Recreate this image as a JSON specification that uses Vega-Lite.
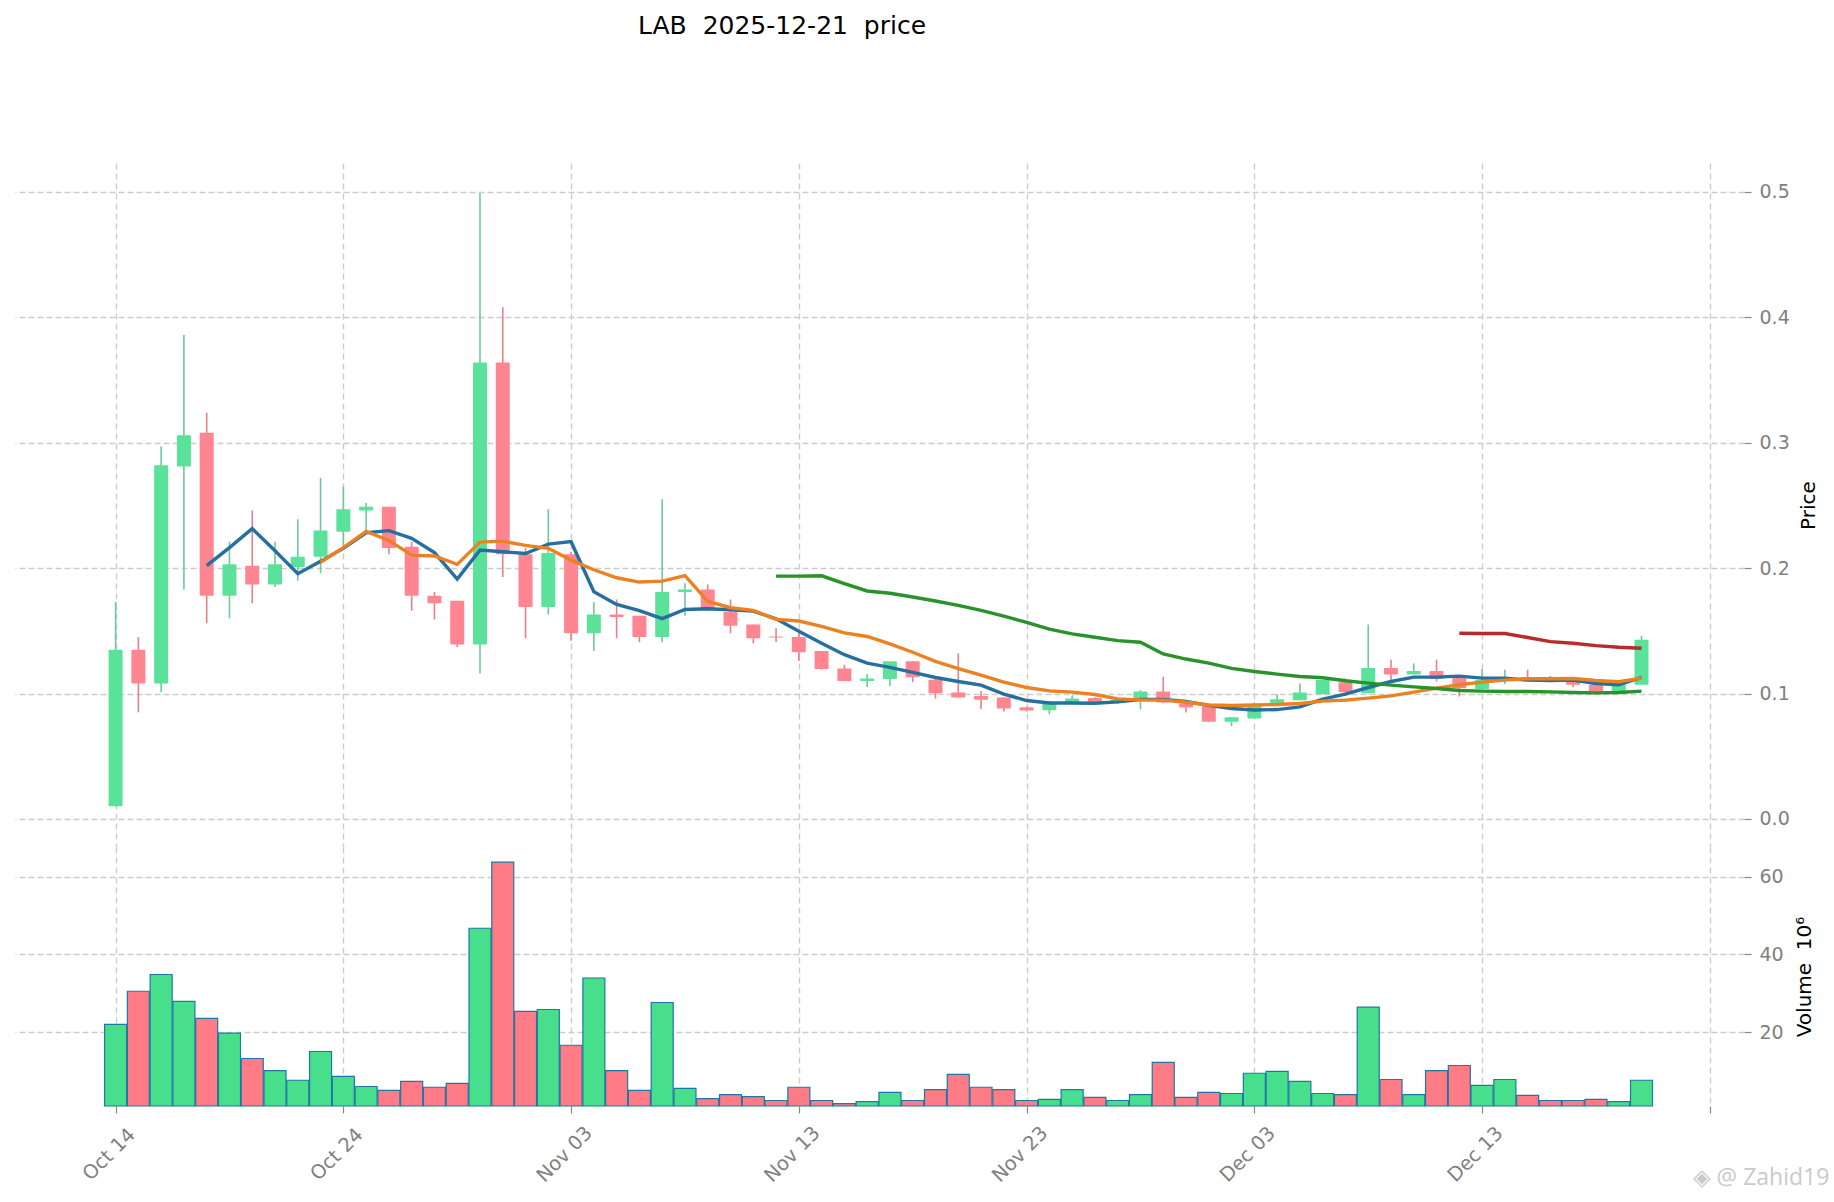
{"$schema":"https://vega.github.io/schema/vega-lite/v6.json","background":"#ffffff","padding":{"left":15,"top":14,"right":0,"bottom":0},"title":{"text":"LAB \u00a02025-12-21 \u00a0price","anchor":"start","frame":"group","dx":623,"offset":124,"font":"DejaVu Sans","fontSize":25,"fontWeight":"normal","color":"#000000"},"spacing":0,"datasets":{"ohlc":[
{"d":"2025-10-14","o":0.010,"h":0.173,"l":0.010,"c":0.135,"v":22.0,"dir":"up"},
{"d":"2025-10-15","o":0.135,"h":0.145,"l":0.085,"c":0.108,"v":30.5,"dir":"down"},
{"d":"2025-10-16","o":0.108,"h":0.297,"l":0.101,"c":0.282,"v":34.8,"dir":"up"},
{"d":"2025-10-17","o":0.281,"h":0.386,"l":0.183,"c":0.306,"v":27.9,"dir":"up"},
{"d":"2025-10-18","o":0.308,"h":0.324,"l":0.156,"c":0.178,"v":23.5,"dir":"down","ma5":0.202},
{"d":"2025-10-19","o":0.178,"h":0.221,"l":0.160,"c":0.203,"v":19.7,"dir":"up","ma5":0.2164},
{"d":"2025-10-20","o":0.202,"h":0.246,"l":0.172,"c":0.187,"v":13.2,"dir":"down","ma5":0.2315},
{"d":"2025-10-21","o":0.187,"h":0.221,"l":0.185,"c":0.203,"v":10.1,"dir":"up","ma5":0.2138},
{"d":"2025-10-22","o":0.201,"h":0.239,"l":0.190,"c":0.209,"v":7.6,"dir":"up","ma5":0.1956},
{"d":"2025-10-23","o":0.209,"h":0.272,"l":0.196,"c":0.230,"v":15.0,"dir":"up","ma5":0.2054,"ma10":0.2047},
{"d":"2025-10-24","o":0.229,"h":0.265,"l":0.218,"c":0.247,"v":8.6,"dir":"up","ma5":0.2158,"ma10":0.2164},
{"d":"2025-10-25","o":0.246,"h":0.252,"l":0.230,"c":0.249,"v":6.0,"dir":"up","ma5":0.2282,"ma10":0.2292},
{"d":"2025-10-26","o":0.249,"h":0.249,"l":0.211,"c":0.216,"v":5.0,"dir":"down","ma5":0.2299,"ma10":0.2221},
{"d":"2025-10-27","o":0.217,"h":0.221,"l":0.166,"c":0.178,"v":7.3,"dir":"down","ma5":0.2238,"ma10":0.2104},
{"d":"2025-10-28","o":0.178,"h":0.181,"l":0.159,"c":0.172,"v":5.8,"dir":"down","ma5":0.2124,"ma10":0.2097},
{"d":"2025-10-29","o":0.174,"h":0.174,"l":0.137,"c":0.139,"v":6.8,"dir":"down","ma5":0.1913,"ma10":0.203},
{"d":"2025-10-30","o":0.139,"h":0.499,"l":0.116,"c":0.364,"v":46.7,"dir":"up","ma5":0.2144,"ma10":0.2208},
{"d":"2025-10-31","o":0.364,"h":0.408,"l":0.193,"c":0.211,"v":63.7,"dir":"down","ma5":0.2131,"ma10":0.2215},
{"d":"2025-11-01","o":0.211,"h":0.216,"l":0.144,"c":0.169,"v":25.3,"dir":"down","ma5":0.2117,"ma10":0.2181},
{"d":"2025-11-02","o":0.169,"h":0.247,"l":0.163,"c":0.212,"v":25.8,"dir":"up","ma5":0.2191,"ma10":0.2158},
{"d":"2025-11-03","o":0.211,"h":0.213,"l":0.142,"c":0.148,"v":16.6,"dir":"down","ma5":0.2211,"ma10":0.2064},
{"d":"2025-11-04","o":0.148,"h":0.173,"l":0.134,"c":0.163,"v":33.9,"dir":"up","ma5":0.1812,"ma10":0.1987},
{"d":"2025-11-05","o":0.163,"h":0.175,"l":0.144,"c":0.161,"v":10.1,"dir":"down","ma5":0.1711,"ma10":0.1923},
{"d":"2025-11-06","o":0.162,"h":0.162,"l":0.141,"c":0.145,"v":5.0,"dir":"down","ma5":0.1661,"ma10":0.1889},
{"d":"2025-11-07","o":0.145,"h":0.255,"l":0.141,"c":0.181,"v":27.6,"dir":"up","ma5":0.1597,"ma10":0.1896},
{"d":"2025-11-08","o":0.181,"h":0.188,"l":0.162,"c":0.183,"v":5.5,"dir":"up","ma5":0.1670,"ma10":0.1940},
{"d":"2025-11-09","o":0.183,"h":0.187,"l":0.166,"c":0.168,"v":2.9,"dir":"down","ma5":0.1676,"ma10":0.1735},
{"d":"2025-11-10","o":0.165,"h":0.175,"l":0.148,"c":0.154,"v":3.9,"dir":"down","ma5":0.1668,"ma10":0.1684},
{"d":"2025-11-11","o":0.155,"h":0.155,"l":0.140,"c":0.144,"v":3.4,"dir":"down","ma5":0.1658,"ma10":0.1663},
{"d":"2025-11-12","o":0.1455,"h":0.152,"l":0.141,"c":0.1447,"v":2.4,"dir":"down","ma5":0.1596,"ma10":0.1591,"ma30":0.1936},
{"d":"2025-11-13","o":0.145,"h":0.149,"l":0.126,"c":0.133,"v":5.8,"dir":"down","ma5":0.1497,"ma10":0.1578,"ma30":0.1936},
{"d":"2025-11-14","o":0.134,"h":0.134,"l":0.119,"c":0.1195,"v":2.4,"dir":"down","ma5":0.1401,"ma10":0.1535,"ma30":0.1939},
{"d":"2025-11-15","o":0.120,"h":0.123,"l":0.110,"c":0.110,"v":1.6,"dir":"down","ma5":0.131,"ma10":0.1484,"ma30":0.1877},
{"d":"2025-11-16","o":0.110,"h":0.1155,"l":0.105,"c":0.112,"v":2.1,"dir":"up","ma5":0.1243,"ma10":0.1455,"ma30":0.1818},
{"d":"2025-11-17","o":0.1115,"h":0.1257,"l":0.106,"c":0.1257,"v":4.5,"dir":"up","ma5":0.1209,"ma10":0.1396,"ma30":0.18},
{"d":"2025-11-18","o":0.1257,"h":0.1257,"l":0.109,"c":0.113,"v":2.4,"dir":"down","ma5":0.1168,"ma10":0.1329,"ma30":0.177},
{"d":"2025-11-19","o":0.111,"h":0.113,"l":0.096,"c":0.1003,"v":5.2,"dir":"down","ma5":0.1128,"ma10":0.1257,"ma30":0.1738},
{"d":"2025-11-20","o":0.1008,"h":0.132,"l":0.0968,"c":0.0968,"v":9.1,"dir":"down","ma5":0.1096,"ma10":0.1198,"ma30":0.1703},
{"d":"2025-11-21","o":0.098,"h":0.102,"l":0.0877,"c":0.095,"v":5.8,"dir":"down","ma5":0.1067,"ma10":0.1147,"ma30":0.1663},
{"d":"2025-11-22","o":0.0968,"h":0.0968,"l":0.0856,"c":0.088,"v":5.2,"dir":"down","ma5":0.0995,"ma10":0.1091,"ma30":0.1618},
{"d":"2025-11-23","o":0.089,"h":0.0895,"l":0.0856,"c":0.0864,"v":2.4,"dir":"down","ma5":0.0944,"ma10":0.1048,"ma30":0.1567},
{"d":"2025-11-24","o":0.0866,"h":0.094,"l":0.0834,"c":0.093,"v":2.7,"dir":"up","ma5":0.0925,"ma10":0.1021,"ma30":0.1513},
{"d":"2025-11-25","o":0.0925,"h":0.0987,"l":0.0925,"c":0.096,"v":5.2,"dir":"up","ma5":0.0925,"ma10":0.1011,"ma30":0.1476},
{"d":"2025-11-26","o":0.0965,"h":0.097,"l":0.092,"c":0.0925,"v":3.2,"dir":"down","ma5":0.0922,"ma10":0.0992,"ma30":0.1449},
{"d":"2025-11-27","o":0.0925,"h":0.0955,"l":0.0915,"c":0.095,"v":2.4,"dir":"up","ma5":0.0933,"ma10":0.0957,"ma30":0.1422},
{"d":"2025-11-28","o":0.0955,"h":0.1027,"l":0.0874,"c":0.1016,"v":3.9,"dir":"up","ma5":0.0952,"ma10":0.0949,"ma30":0.1409},
{"d":"2025-11-29","o":0.1016,"h":0.1134,"l":0.0922,"c":0.0928,"v":12.2,"dir":"down","ma5":0.0952,"ma10":0.0947,"ma30":0.1316},
{"d":"2025-11-30","o":0.092,"h":0.092,"l":0.0848,"c":0.0888,"v":3.2,"dir":"down","ma5":0.0936,"ma10":0.093,"ma30":0.1275},
{"d":"2025-12-01","o":0.0901,"h":0.0901,"l":0.0775,"c":0.0775,"v":4.5,"dir":"down","ma5":0.0906,"ma10":0.0909,"ma30":0.1243},
{"d":"2025-12-02","o":0.0775,"h":0.081,"l":0.074,"c":0.081,"v":4.2,"dir":"up","ma5":0.088,"ma10":0.0904,"ma30":0.12},
{"d":"2025-12-03","o":0.080,"h":0.093,"l":0.080,"c":0.090,"v":9.4,"dir":"up","ma5":0.0869,"ma10":0.0909,"ma30":0.1176},
{"d":"2025-12-04","o":0.0915,"h":0.0995,"l":0.0915,"c":0.0955,"v":9.9,"dir":"up","ma5":0.0872,"ma10":0.0912,"ma30":0.1155},
{"d":"2025-12-05","o":0.0947,"h":0.108,"l":0.0947,"c":0.1008,"v":7.3,"dir":"up","ma5":0.0893,"ma10":0.092,"ma30":0.1136},
{"d":"2025-12-06","o":0.0995,"h":0.1107,"l":0.0995,"c":0.1107,"v":4.2,"dir":"up","ma5":0.0955,"ma10":0.0939,"ma30":0.1126},
{"d":"2025-12-07","o":0.109,"h":0.112,"l":0.098,"c":0.101,"v":3.9,"dir":"down","ma5":0.0995,"ma10":0.0947,"ma30":0.1102},
{"d":"2025-12-08","o":0.1003,"h":0.155,"l":0.1,"c":0.1203,"v":26.4,"dir":"up","ma5":0.1048,"ma10":0.0963,"ma30":0.1083},
{"d":"2025-12-09","o":0.1203,"h":0.127,"l":0.1107,"c":0.1152,"v":7.8,"dir":"down","ma5":0.1096,"ma10":0.0981,"ma30":0.1067},
{"d":"2025-12-10","o":0.1152,"h":0.124,"l":0.1152,"c":0.118,"v":3.9,"dir":"up","ma5":0.1131,"ma10":0.1011,"ma30":0.1053},
{"d":"2025-12-11","o":0.118,"h":0.127,"l":0.1096,"c":0.1115,"v":10.1,"dir":"down","ma5":0.1131,"ma10":0.1043,"ma30":0.104},
{"d":"2025-12-12","o":0.1123,"h":0.1125,"l":0.0976,"c":0.1043,"v":11.4,"dir":"down","ma5":0.1139,"ma10":0.107,"ma30":0.1024,"ma60":0.1481},
{"d":"2025-12-13","o":0.1037,"h":0.1195,"l":0.1037,"c":0.1107,"v":6.3,"dir":"up","ma5":0.1123,"ma10":0.1091,"ma30":0.1019,"ma60":0.1479},
{"d":"2025-12-14","o":0.111,"h":0.119,"l":0.1075,"c":0.112,"v":7.8,"dir":"up","ma5":0.1123,"ma10":0.1107,"ma30":0.1016,"ma60":0.1479},
{"d":"2025-12-15","o":0.113,"h":0.119,"l":0.111,"c":0.112,"v":3.7,"dir":"down","ma5":0.1107,"ma10":0.1118,"ma30":0.1016,"ma60":0.1447},
{"d":"2025-12-16","o":0.112,"h":0.114,"l":0.109,"c":0.1115,"v":2.4,"dir":"down","ma5":0.1104,"ma10":0.1118,"ma30":0.1013,"ma60":0.1414},
{"d":"2025-12-17","o":0.1102,"h":0.1102,"l":0.105,"c":0.107,"v":2.4,"dir":"down","ma5":0.1107,"ma10":0.112,"ma30":0.1008,"ma60":0.1401},
{"d":"2025-12-18","o":0.107,"h":0.107,"l":0.099,"c":0.1016,"v":2.7,"dir":"down","ma5":0.108,"ma10":0.1104,"ma30":0.1005,"ma60":0.1382},
{"d":"2025-12-19","o":0.1016,"h":0.1075,"l":0.1016,"c":0.1075,"v":2.1,"dir":"up","ma5":0.107,"ma10":0.1094,"ma30":0.1008,"ma60":0.1369},
{"d":"2025-12-20","o":0.107,"h":0.146,"l":0.107,"c":0.1428,"v":7.6,"dir":"up","ma5":0.1128,"ma10":0.1123,"ma30":0.1019,"ma60":0.1361}
]},"data":{"name":"ohlc"},"vconcat":[
{"width":1729,"height":684,"encoding":{"x":{"field":"d","type":"temporal","scale":{"type":"utc","nice":false,"padding":0,"domain":[{"year":2025,"month":"oct","date":9,"hours":14,"utc":true},{"year":2025,"month":"dec","date":24,"hours":12,"utc":true}]},"title":null,"axis":{"values":[{"year":2025,"month":"oct","date":14,"utc":true},{"year":2025,"month":"oct","date":24,"utc":true},{"year":2025,"month":"nov","date":3,"utc":true},{"year":2025,"month":"nov","date":13,"utc":true},{"year":2025,"month":"nov","date":23,"utc":true},{"year":2025,"month":"dec","date":3,"utc":true},{"year":2025,"month":"dec","date":13,"utc":true},{"year":2025,"month":"dec","date":23,"utc":true}],"labels":false,"ticks":false,"domain":false,"grid":true,"gridColor":"#cccccc","gridDash":[6,4],"gridWidth":1.4}}},"layer":[
{"mark":{"type":"rule","strokeWidth":1.6},"encoding":{"y":{"field":"l","type":"quantitative","scale":{"domain":[-0.0224,0.5231],"nice":false,"zero":false},"title":"Price","axis":{"orient":"right","values":[0,0.1,0.2,0.3,0.4,0.5],"format":".1f","domain":false,"grid":true,"gridColor":"#cccccc","gridDash":[6,3],"gridWidth":1.6,"tickColor":"#888888","tickSize":7,"tickWidth":1.2,"labelColor":"#808080","labelFontSize":19,"labelFont":"DejaVu Sans","labelPadding":8,"titleColor":"#000000","titleFont":"DejaVu Sans","titleFontWeight":"normal","titleFontSize":20,"titleAngle":270,"titleBaseline":"bottom","titlePadding":29}},"y2":{"field":"h"},"color":{"field":"dir","type":"nominal","legend":null,"scale":{"domain":["up","down"],"range":["#6FC99A","#E88088"]}}}},
{"mark":{"type":"bar","width":14,"cornerRadius":1},"encoding":{"y":{"field":"o","type":"quantitative"},"y2":{"field":"c"},"color":{"field":"dir","type":"nominal","legend":null,"scale":{"domain":["up","down"],"range":["#5BE29A","#FF8690"]}}}},
{"mark":{"type":"line","color":"#266f9e","strokeWidth":3.4},"encoding":{"y":{"field":"ma5","type":"quantitative"}}},
{"mark":{"type":"line","color":"#ec8121","strokeWidth":3.4},"encoding":{"y":{"field":"ma10","type":"quantitative"}}},
{"mark":{"type":"line","color":"#2a922a","strokeWidth":3.4},"encoding":{"y":{"field":"ma30","type":"quantitative"}}},
{"mark":{"type":"line","color":"#b92b2b","strokeWidth":3.4},"encoding":{"y":{"field":"ma60","type":"quantitative"}}}
],"resolve":{"scale":{"color":"independent"}}},
{"width":1729,"height":259,"encoding":{"x":{"field":"d","type":"temporal","scale":{"type":"utc","nice":false,"padding":0,"domain":[{"year":2025,"month":"oct","date":9,"hours":14,"utc":true},{"year":2025,"month":"dec","date":24,"hours":12,"utc":true}]},"title":null,"axis":{"values":[{"year":2025,"month":"oct","date":14,"utc":true},{"year":2025,"month":"oct","date":24,"utc":true},{"year":2025,"month":"nov","date":3,"utc":true},{"year":2025,"month":"nov","date":13,"utc":true},{"year":2025,"month":"nov","date":23,"utc":true},{"year":2025,"month":"dec","date":3,"utc":true},{"year":2025,"month":"dec","date":13,"utc":true},{"year":2025,"month":"dec","date":23,"utc":true}],"labelExpr":"utcFormat(datum.value,'%b %d')=='Dec 23'?'':utcFormat(datum.value,'%b %d')","labelAngle":-45,"labelAlign":"center","labelBaseline":"middle","labelPadding":41,"labelOffset":-7,"labelColor":"#808080","labelFontSize":19.5,"labelFont":"DejaVu Sans","labelOverlap":false,"labelFlush":false,"domain":false,"ticks":true,"tickColor":"#888888","tickSize":7,"tickWidth":1.2,"grid":true,"gridColor":"#cccccc","gridDash":[6,4],"gridWidth":1.4}}},"layer":[
{"mark":{"type":"bar","width":22,"stroke":"#1f77a4","strokeWidth":1.2},"encoding":{"y":{"field":"v","type":"quantitative","scale":{"domain":[0.98,67.6],"nice":false,"zero":false},"title":"Volume \u00a010⁶","axis":{"orient":"right","values":[20,40,60],"format":"d","domain":false,"grid":true,"gridColor":"#cccccc","gridDash":[6,3],"gridWidth":1.6,"tickColor":"#888888","tickSize":7,"tickWidth":1.2,"labelColor":"#808080","labelFontSize":19,"labelFont":"DejaVu Sans","labelPadding":8,"titleColor":"#000000","titleFont":"DejaVu Sans","titleFontWeight":"normal","titleFontSize":20,"titleAngle":270,"titleBaseline":"bottom","titlePadding":31}},"y2":{"datum":0.98},"color":{"field":"dir","type":"nominal","legend":null,"scale":{"domain":["up","down"],"range":["#48DF8C","#FF7B85"]}}}},
{"data":{"values":[{"d":"2025-12-28T06:00:00Z","wy":-17.6,"t":"◈ @ Zahid19"}]},"mark":{"type":"text","align":"right","baseline":"middle","clip":false,"font":"Open Sans","fontSize":23,"color":"#c9c9c9"},"encoding":{"y":{"field":"wy","type":"quantitative"},"text":{"field":"t"}}}
]}
],"config":{"view":{"stroke":null},"style":{"cell":{"stroke":null}}}}
